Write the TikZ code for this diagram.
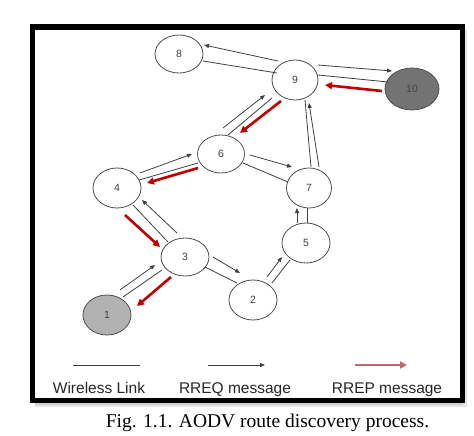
\documentclass[tikz,border=0pt]{standalone}
\usepackage{fontspec}
\setmainfont{Liberation Sans}
\newfontfamily\capfont{Liberation Serif}
\usetikzlibrary{arrows.meta,calc,shapes.geometric}
\begin{document}
\begin{tikzpicture}[x=1pt,y=-1pt,
  nd/.style={ellipse,draw=black!70,line width=0.8pt,inner sep=0pt,
    minimum width=48pt,minimum height=40pt,font=\fontsize{10.5}{12}\selectfont,text=black!75},
  link/.style={draw=black!75,line width=0.8pt},
  rreq/.style={draw=black!75,line width=0.8pt,-{Triangle[length=5pt,width=4pt]}},
  rrep/.style={draw=red!75!black,line width=2.6pt,-{Triangle[length=7pt,width=7pt]}},
  lab/.style={font=\fontsize{15.5}{18}\selectfont,text=black!85,anchor=base}]
\useasboundingbox (0,0) rectangle (474,436);
% frame with soft shadow
\fill[black!10] (35,401) rectangle (467,407);
\fill[black!18] (35,401) rectangle (466,405);
\fill[black!10] (463,30) rectangle (467,407);
\draw[line width=5.5pt] (32.5,27) rectangle (462.5,400.5);
% nodes
\node[nd] (n1) at (107,315) [fill=black!30] {1};
\node[nd] (n2) at (253,300) {2};
\node[nd,minimum height=38pt] (n3) at (185,257) {3};
\node[nd] (n4) at (117,188) {4};
\node[nd] (n5) at (306,243) {5};
\node[nd,minimum height=38pt,minimum width=47pt] (n6) at (221,154) {6};
\node[nd,minimum width=45pt] (n7) at (309,188) {7};
\node[nd,minimum height=38pt] (n8) at (179,54) {8};
\node[nd,minimum width=46pt] (n9) at (295,80) {9};
\node[nd,minimum width=54pt,minimum height=42pt,fill=black!55] (n10) at (412,89) {10};
% 9 - 8
\draw[link] ($(n9)+(-18,-7)$) -- ($(n8)+(24,7)$);
\draw[rreq] ($(n9)+(-17,-19)$) -- ($(n8)+(25,-9)$);
% 9 - 10
\draw[rreq] ($(n9)+(23,-15)$) -- ($(n10)+(-20,-18)$);
\draw[link] ($(n9)+(23,-5)$) -- ($(n10)+(-24,-7)$);
\draw[rrep] ($(n10)+(-30,2)$) -- ($(n9)+(30,5)$);
% 6 - 9
\draw[rreq] ($(n6)+(2,-26)$) -- ($(n9)+(-30,15)$);
\draw[link] ($(n6)+(7,-19)$) -- ($(n9)+(-23,18)$);
\draw[rrep] ($(n9)+(-14,21)$) -- ($(n6)+(19,-21)$);
% 7 - 9
\draw[rreq] ($(n7)+(10,-21)$) -- ($(n9)+(14,23)$);
\draw[link] ($(n7)+(2,-21)$) -- ($(n9)+(10,20)$);
% 4 - 6
\draw[rreq] ($(n4)+(23,-15)$) -- ($(n6)+(-29,0)$);
\draw[link] ($(n4)+(22,-8)$) -- ($(n6)+(-23,9)$);
\draw[rrep] ($(n6)+(-23,14)$) -- ($(n4)+(30,-5)$);
% 6 - 7
\draw[rreq] ($(n6)+(29,1)$) -- ($(n7)+(-17,-21)$);
\draw[link] ($(n6)+(22,9)$) -- ($(n7)+(-21,-6)$);
% 5 - 7
\draw[rreq] ($(n5)+(-9,-20)$) -- ($(n7)+(-12,20)$);
\draw[link] ($(n5)+(1,-20)$) -- ($(n7)+(-2,20)$);
% 3 - 4
\draw[rreq] ($(n3)+(-8,-24)$) -- ($(n4)+(25,12)$);
\draw[link] ($(n4)+(16,17)$) -- ($(n3)+(-17,-15)$);
\draw[rrep] ($(n4)+(8,27)$) -- ($(n3)+(-25,-10)$);
% 1 - 3
\draw[rreq] ($(n1)+(13,-25)$) -- ($(n3)+(-30,8)$);
\draw[link] ($(n1)+(16,-18)$) -- ($(n3)+(-23,13)$);
\draw[rrep] ($(n3)+(-14,20)$) -- ($(n1)+(30,-9)$);
% 3 - 2
\draw[rreq] ($(n3)+(28,0)$) -- ($(n2)+(-13,-27)$);
\draw[link] ($(n3)+(20,10)$) -- ($(n2)+(-16,-17)$);
% 2 - 5
\draw[rreq] ($(n2)+(14,-23)$) -- ($(n5)+(-24,14)$);
\draw[link] ($(n2)+(19,-17)$) -- ($(n5)+(-16,17)$);
% legend
\coordinate (la) at (73,365); \coordinate (lb) at (140,365);
\coordinate (qa) at (208,365); \coordinate (qb) at (265,365);
\coordinate (pa) at (355,365); \coordinate (pb) at (407,365);
\draw[link] (la) -- (lb);
\draw[rreq] (qa) -- (qb);
\draw[rrep,draw=red!60!black!60,line width=2.4pt] (pa) -- (pb);
\node[lab] (t1) at (99,393) {Wireless Link};
\node[lab] (t2) at (235,393) {RREQ message};
\node[lab] (t3) at (387,393) {RREP message};
\node[anchor=base,font=\capfont\fontsize{19.5}{22}\selectfont] (cap) at (267.5,427) {Fig. 1.1. AODV route discovery process.};
\end{tikzpicture}
\end{document}
